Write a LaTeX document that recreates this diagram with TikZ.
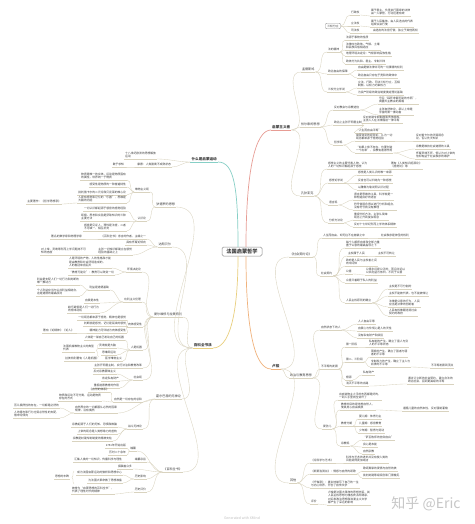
\documentclass[tikz,border=0pt]{standalone}
\usepackage{fontspec}
\setmainfont{Noto Sans CJK SC}
\usepackage{xcolor}
\usepackage{tikz}
\usetikzlibrary{decorations.pathreplacing}

\definecolor{twigc}{HTML}{D9D3BF}
\definecolor{textc}{HTML}{3A3A3A}
\definecolor{brA}{HTML}{E79C94}
\definecolor{brR}{HTML}{F0B27C}
\definecolor{brL}{HTML}{86CFC6}
\definecolor{brM}{HTML}{E9CF7E}

\newcommand\leaffont{\fontsize{2.8}{3.5}\selectfont}
\newcommand\topicfont{\fontsize{3.1}{3.8}\selectfont}

\begin{document}
\begin{tikzpicture}[
    x=1pt, y=-1pt,
    twig/.style={draw=twigc, line width=0.35pt},
    rt/.style={out=0, in=180},
    lt/.style={out=180, in=0},
    leaf/.style={font=\leaffont, text=textc, align=left, inner xsep=0.8pt, inner ysep=0.7pt,
                 append after command={(\tikzlastnode.south west) edge[twig] (\tikzlastnode.south east)}},
    rleaf/.style={leaf, anchor=south west},
    lleaf/.style={leaf, anchor=south east},
    rtopic/.style={rleaf, font=\topicfont},
    ltopic/.style={lleaf, font=\topicfont},
    branch/.style={font=\fontsize{3.6}{4.2}\selectfont\bfseries, text=textc, inner xsep=1pt, inner ysep=0.8pt,
                   append after command={(\tikzlastnode.south west) edge[draw=#1, line width=0.6pt] (\tikzlastnode.south east)}},
    mainline/.style={draw=#1, line width=0.7pt},
    centre/.style={draw=black!45, line width=0.5pt, rounded corners=1.5pt, fill=white,
                   font=\fontsize{5.2}{6}\selectfont\bfseries, text=textc,
                   minimum width=40pt, minimum height=9pt, inner sep=1pt},
    floatbox/.style={draw=black!40, line width=0.4pt, rounded corners=1pt, font=\leaffont, text=textc,
                     minimum width=15pt, minimum height=5.5pt, inner sep=1pt},
    sumbrace/.style={twig, decorate, decoration={brace, amplitude=2pt}}
]
\fill[white] (0,0) rectangle (474,524);
\useasboundingbox (0,0) rectangle (474,524);

% Centre
\node[centre] (root) at (242,251.5) {法国启蒙哲学};

% BRANCH 1 (upper right)
\node[branch=brA, anchor=south west] (qm) at (271,130) {启蒙主义者};

\node[floatbox] (sq) at (333,26) {三权分立};
\node[rleaf] (sq1) at (350,15) {行政权};
\node[rleaf] (sq1a) at (370,16) {属于君主，负责执行国家的法律\\由一人掌管，行动迅速有效};
\node[rleaf] (sq2) at (350,26) {立法权};
\node[rleaf] (sq2a) at (370,27) {属于人民集体，由人民选出的代表\\组成议会行使};
\node[rleaf] (sq3) at (350,33) {司法权};
\node[rleaf] (sq3a) at (372,33) {由选出的法官行使，独立于其他两权};

\node[rtopic] (msq) at (301,72) {孟德斯鸠};
\node[rleaf] (msq1) at (327,52) {法的精神};
\node[rleaf] (msq1a) at (345,40) {法源于事物的性质};
\node[rleaf] (msq1b) at (345,50) {法律应与政体、气候、土壤\\和民族风俗相适应};
\node[rleaf] (msq1c) at (345,56) {地理环境决定论：气候影响民族性格};
\node[rleaf] (msq1d) at (345,64) {政体分为共和、君主、专制三种};
\node[rleaf] (msq2) at (327,74) {政治自由的保障};
\node[rleaf] (msq2a) at (357,70) {自由是做法律许可的一切事情的权利};
\node[rleaf] (msq2b) at (357,78) {政治自由只存在于宽和的政体中};
\node[rleaf] (msq3) at (327,92) {三权分立学说};
\node[rleaf] (msq3a) at (357,88) {立法、行政、司法三权分立，互相\\制衡，以权力约束权力};
\node[rleaf] (msq3b) at (357,95) {为资产阶级的政治制度奠定理论基础};

\node[rtopic] (fet) at (300,127) {伏尔泰的思想};
\node[rleaf] (fet1) at (333,110) {反对教会与宗教迷信};
\node[rleaf] (fet1a) at (378,104) {号召“踩死卑鄙无耻的东西”，\\揭露天主教会的黑暗};
\node[rleaf] (fet1b) at (378,115) {主张自然神论，承认上帝是\\宇宙的第一推动者};
\node[rleaf] (fet2) at (333,125) {政治上主张开明君主制};
\node[rleaf] (fet2a) at (362,123) {反对封建专制制度和贵族特权，\\主张人人在法律面前一律平等};
\node[rleaf] (fet2b) at (355,133) {“人生而自由平等”};
\node[rleaf] (fet3) at (333,145) {哲学观};
\node[rleaf] (fet3a) at (355,141) {接受洛克的经验论，认为一切\\观念都来源于感觉经验};
\node[rleaf] (fet3aa) at (415,141) {反对笛卡尔的天赋观念\\论，否认先天知识};
\node[rleaf] (fet3b) at (355,153) {“如果上帝不存在，也要创造\\一个出来”，宗教有道德作用};
\node[rleaf] (fet3ba) at (415,149) {宗教是维持社会道德的工具};
\node[rleaf] (fet3bb) at (415,159) {怀疑灵魂不死，但认为对上帝的\\信仰有益于社会秩序的维护};

\node[rtopic] (kdy) at (300,196) {孔狄亚克};
\node[rleaf] (kdy1) at (327,169) {感觉主义的主要代表人物，认为\\人的一切知识都起源于感觉};
\node[rleaf] (kdy1a) at (390,169) {著有《人类知识起源论》\\《感觉论》等};
\node[rleaf] (kdy2) at (328,183) {感觉论学说};
\node[rleaf] (kdy2a) at (357,175) {感觉是人类认识的唯一来源};
\node[rleaf] (kdy2b) at (357,183) {反省也可以归结为一种感觉};
\node[rleaf] (kdy2c) at (357,190) {以雕像为喻说明认识过程};
\node[rleaf] (kdy3) at (328,205) {语言观};
\node[rleaf] (kdy3a) at (353,200) {语言是思维的工具，科学就是一\\种构造良好的语言};
\node[rleaf] (kdy3b) at (353,210) {符号使观念得以进行分析和组合，\\没有符号就没有推理};
\node[rleaf] (kdy4) at (328,223) {分析方法论};
\node[rleaf] (kdy4a) at (353,220) {重视分析方法，主张从简单\\观念上升到复杂观念};
\node[rleaf] (kdy4b) at (353,227) {反对十七世纪形而上学的体系精神};

% BRANCH 2 (lower right)
\node[branch=brR, anchor=south west] (ls) at (271,369) {卢梭};

\node[rtopic] (shq) at (289,257) {《社会契约论》};
\node[rleaf] (shq1) at (322,238) {人生而自由，却无往不在枷锁之中};
\node[rleaf] (shq1a) at (380,238) {社会秩序是神圣的权利};
\node[rleaf] (shq2) at (320,276) {社会契约};
\node[rleaf] (shq2a) at (345,248) {每个人都把自身和全部力量\\置于公意的最高指导之下};
\node[rleaf] (shq2b) at (347,256) {主权属于人民};
\node[rleaf] (shq2ba) at (377,256) {主权不可转让};
\node[rleaf] (shq2c) at (345,266) {政府是人民与主权者之间\\的中间体};
\node[rleaf] (shq2d) at (345,274) {公意};
\node[rleaf] (shq2da) at (365,275) {公意永远是公正的，而且永远以\\公共利益为依归，不同于众意};
\node[rleaf] (shq2e) at (345,283) {众意只着眼于私人的利益};
\node[rleaf] (shq2f) at (345,303) {人民主权原则的确立};
\node[rleaf] (shq2f1) at (388,289) {主权是不可分割的};
\node[rleaf] (shq2f2) at (388,296) {主权不能被代表，也不能被转让};
\node[rleaf] (shq2f3) at (388,307) {法律是公意的行为，人民\\应当是法律的创制者};
\node[rleaf] (shq2f4) at (388,316) {人民有权推翻违背社会\\契约的政府};

\node[rtopic] (bpd) at (289,378) {政治与教育思想};
\node[rleaf] (bpd1) at (320,330) {自然状态下的人};
\node[rleaf] (bpd1a) at (357,324) {人人自由平等};
\node[rleaf] (bpd1b) at (357,331) {自爱心与怜悯心是人的天性};
\node[rleaf] (bpd1c) at (357,338) {没有私有财产和奴役};
\node[rleaf] (bpd2) at (320,369) {不平等的发展};
\node[rleaf] (bpd2a) at (345,347) {第一阶段};
\node[rleaf] (bpd2aa) at (368,347) {私有制的产生，确立了富人与穷\\人的不平等状态};
\node[rleaf] (bpd2b) at (345,362) {第二、三阶段};
\node[rleaf] (bpd2ba) at (370,357) {国家的产生，确立了强者与弱\\者的不平等};
\node[rleaf] (bpd2bb) at (370,367) {专制权力的产生，确立了主人与\\奴隶的不平等};
\node[rleaf] (bpd2bba) at (430,368) {不平等发展到顶点};
\node[rleaf] (bpd2c) at (345,380) {根源};
\node[rleaf] (bpd2ca) at (362,375) {私有财产};
\node[rleaf] (bpd2d) at (345,386) {消灭不平等的出路};
\node[rleaf] (bpd2da) at (407,384) {通过订立新的社会契约，建立合法的\\政治社会，回到更高级的平等};
\node[rleaf] (amr) at (322,429) {爱弥儿};
\node[rleaf] (amr1) at (338,400) {出自造物主之手的东西都是好的，\\一到人手里就全变坏了};
\node[rleaf] (amr2) at (340,410) {教育的目的是培养自然人，\\使其身心自由发展};
\node[rleaf] (amr2a) at (402,411) {遵循儿童的自然本性，反对强制灌输};
\node[rleaf] (amr3) at (340,426) {教育分期};
\node[rleaf] (amr3a) at (358,419) {婴儿期：体育为主};
\node[rleaf] (amr3b) at (358,426) {儿童期：感官教育};
\node[rleaf] (amr3c) at (358,433) {少年期：智育与劳动};
\node[rleaf] (amr4) at (340,446) {宗教观};
\node[rleaf] (amr4a) at (362,440) {“萨瓦牧师的信仰自白”};
\node[rleaf] (amr4b) at (362,447) {良心是本能};
\node[rleaf] (amr4c) at (362,454) {自然宗教};

\node[rtopic] (qt) at (289,483) {其他};
\node[rleaf] (qt1) at (310,463) {《论科学与艺术》};
\node[rleaf] (qt1a) at (345,463) {科学与艺术的进步并没有使人类的\\风俗变得更加纯洁};
\node[rleaf] (qt2) at (310,474) {《新爱洛漪丝》：情感与自然的颂歌};
\node[rleaf] (qt2a) at (362,471) {歌颂真挚的爱情与自然的美};
\node[rleaf] (qt2b) at (362,478) {批判封建等级观念和门第偏见};
\node[rleaf] (qt3) at (310,488) {《忏悔录》：真实地描写了自己的一生\\与内心世界，开创了自传文学};
\node[rleaf] (qt4) at (310,504) {评价};
\node[rleaf] (qt4a) at (327,505) {卢梭是法国大革命的思想先驱，其\\人民主权思想为雅各宾派所继承，\\对后世政治思想和浪漫主义文学\\都产生了深远的影响};

% BRANCH 3 (upper left)
\node[branch=brL, anchor=south east] (smqm) at (218,162) {什么是启蒙运动};
\node[lleaf] (smqm1) at (157,159) {十八世纪欧洲的思想解放\\运动};
\node[lleaf] (smqm2) at (172,167) {康德：人类脱离不成熟状态};
\node[lleaf] (smqm2a) at (125,167) {敢于求知};

% BRANCH 4 (lower left)
\node[branch=brM, anchor=south east] (bkqs) at (213,348) {百科全书派};

\node[ltopic] (ddl) at (176,207) {狄德罗的思想};
\node[lleaf] (ddl1) at (150,192) {唯物主义观};
\node[lleaf] (ddl1a) at (127,180) {物质是唯一的实体，运动是物质固有\\的属性，世界统一于物质};
\node[lleaf] (ddl1b) at (127,187) {感受性是物质的一种普遍特性};
\node[lleaf] (ddl1c) at (127,195) {批判笛卡尔的二元论和贝克莱的唯心论};
\node[lleaf] (ddl1d) at (127,203) {人是有感觉和记忆的“乐器”，思维是\\大脑的功能};
\node[lleaf] (ddl1e) at (62,204) {主要著作：《哲学思想录》};
\node[lleaf] (ddl2) at (147,221) {认识论};
\node[lleaf] (ddl2a) at (127,211) {一切认识都起源于感官的感觉经验};
\node[lleaf] (ddl2b) at (127,221) {观察、思考和实验是获取知识的三种\\主要方法};
\node[lleaf] (ddl2c) at (127,231) {感官是见证人，理性是法官，二者\\不可缺一，相互补充};

\node[ltopic] (dlb) at (172,247) {达朗贝尔};
\node[lleaf] (dlb1) at (147,239) {《百科全书》序言的作者，主编之一};
\node[lleaf] (dlb1a) at (83,239) {著名的数学家和物理学家};
\node[lleaf] (dlb2) at (147,245) {具有怀疑论倾向};
\node[lleaf] (dlb3) at (133,255) {主张一切知识都建立在感觉\\经验的基础之上};
\node[lleaf] (dlb3a) at (87,255) {对上帝、灵魂等形而上学问题持不可\\知的态度};

\node[ltopic] (aew) at (183,317) {爱尔维修与拉美特利};
\node[lleaf] (aew1) at (142,272) {环境决定论};
\node[lleaf] (aew1a) at (112,268) {人是环境的产物，人的性格和才能\\是由教育和社会环境造成的，\\人的差别来自后天};
\node[lleaf] (aew1b) at (115,275) {“教育万能论”：教育可以改变一切};
\node[lleaf] (aew2) at (142,302) {功利主义伦理};
\node[lleaf] (aew2a) at (110,290) {利益是道德基础};
\node[lleaf] (aew2a1) at (80,285) {利益是支配人们一切行为和判断的\\唯一推动力};
\node[lleaf] (aew2a2) at (80,296) {个人利益应当与公共利益相结合，\\这是道德的最高原则};
\node[lleaf] (aew2b) at (100,303) {自爱是本性};
\node[lleaf] (aew2c) at (100,313) {趋乐避苦是人们一切行为\\的根本动机};
\node[lleaf] (aew3) at (143,327) {肉体感受性};
\node[lleaf] (aew3a) at (127,320) {一切观念都来源于感觉，精神也是感觉};
\node[lleaf] (aew3b) at (127,326) {判断就是感觉，记忆是延续的感觉};
\node[lleaf] (aew3c) at (127,333) {精神能力可归结为肉体感受性};
\node[lleaf] (aew3ca) at (75,333) {著有《论精神》《论人》};
\node[lleaf] (aew4) at (143,350) {人是机器};
\node[lleaf] (aew4a) at (125,340) {人体是一架自己发动自己的机器};
\node[lleaf] (aew4b) at (117,348) {灵魂就是大脑};
\node[lleaf] (aew4c) at (117,355) {思维即运动};
\node[lleaf] (aew4d) at (123,361) {医学唯物主义};
\node[lleaf] (aew4da) at (100,361) {拉美特利著有《人是机器》};
\node[lleaf] (aews) at (95,352) {法国机械唯物主义的典型\\代表};
\node[lleaf] (aew6) at (143,368) {主张开明君主制，实行法治和教育改革};
\node[lleaf] (aew5) at (143,380) {社会观};
\node[lleaf] (aew5a) at (117,374) {反对宗教蒙昧主义};
\node[lleaf] (aew5b) at (120,381) {肯定私有财产};
\node[lleaf] (aew5c) at (120,388) {重视道德教育的作用};

\node[ltopic] (hbh) at (182,399) {霍尔巴赫的无神论};
\node[lleaf] (hbh1) at (143,402) {自然是一切存在的总和};
\node[lleaf] (hbh1a) at (110,392) {《自然的体系》};
\node[lleaf] (hbh1b) at (102,401) {物质和运动不可分离，运动是物质\\存在的方式};
\node[lleaf] (hbh2) at (118,413) {自然界中的一切都服从必然的因果\\规律，没有偶然};
\node[lleaf] (hbh2a) at (60,408) {否认偶然性的存在，一切都是必然的};
\node[lleaf] (hbh2b) at (60,418) {人的意志和行为也受必然性的支配，\\宿命论倾向};
\node[lleaf] (hbh3) at (143,429) {战斗无神论};
\node[lleaf] (hbh3a) at (118,427) {宗教起源于人们的无知、恐惧和欺骗};
\node[lleaf] (hbh3b) at (118,434) {上帝的观念是人类想象力的虚构};
\node[lleaf] (hbh3c) at (113,441) {宗教是封建专制制度的精神支柱};

\node[ltopic] (bkqsh) at (183,472) {《百科全书》};
\node[lleaf] (bk1) at (137,451) {编纂};
\node[lleaf] (bk1a) at (127,448) {1751年开始出版};
\node[lleaf] (bk1b) at (127,455) {历时二十余年};
\node[lleaf] (bk2) at (147,462) {编纂宗旨};
\node[lleaf] (bk2a) at (123,462) {汇集人类的一切知识，传播科学与理性};
\node[lleaf] (bk3) at (133,469) {撰稿者众多};
\node[lleaf] (bk4) at (147,479) {历史影响};
\node[lleaf] (bk4a) at (123,475) {成为法国启蒙运动的旗帜和思想中心};
\node[lleaf] (bk4b) at (123,483) {为法国大革命做了思想准备};
\node[lleaf] (bks) at (70,479) {思想的丰碑};
\node[lleaf] (bk5) at (147,492) {历史评价};
\node[lleaf] (bk5a) at (115,494) {被誉为“启蒙思想的百科全书”，\\代表了理性时代的精神};

% main branches
\draw[mainline=brA] ([xshift=4pt]root.north) .. controls +(0,-75) and +(-16,0) .. (qm.south west);
\draw[mainline=brL] ([xshift=-4pt]root.north) .. controls +(0,-60) and +(16,0) .. (smqm.south east);
\draw[mainline=brR] ([xshift=4pt]root.south) .. controls +(0,75) and +(-16,0) .. (ls.south west);
\draw[mainline=brM] ([xshift=-4pt]root.south) .. controls +(0,60) and +(16,0) .. (bkqs.south east);

% connectors, right side
\draw[twig] (qm.south east) edge[rt] (msq.south west) edge[rt] (fet.south west) edge[rt] (kdy.south west);
\draw[twig] (sq.east) edge[rt] (sq1.south west) edge[rt] (sq2.south west) edge[rt] (sq3.south west);
\draw[twig] (sq1.south east) edge[rt] (sq1a.south west);
\draw[twig] (sq2.south east) edge[rt] (sq2a.south west);
\draw[twig] (sq3.south east) edge[rt] (sq3a.south west);
\draw[twig] (msq.south east) edge[rt] (msq1.south west) edge[rt] (msq2.south west) edge[rt] (msq3.south west);
\draw[twig] (msq1.south east) edge[rt] (msq1a.south west) edge[rt] (msq1b.south west) edge[rt] (msq1c.south west) edge[rt] (msq1d.south west);
\draw[twig] (msq2.south east) edge[rt] (msq2a.south west) edge[rt] (msq2b.south west);
\draw[twig] (msq3.south east) edge[rt] (msq3a.south west) edge[rt] (msq3b.south west);
\draw[twig] (fet.south east) edge[rt] (fet1.south west) edge[rt] (fet2.south west) edge[rt] (fet3.south west);
\draw[twig] (fet1.south east) edge[rt] (fet1a.south west) edge[rt] (fet1b.south west);
\draw[twig] (fet2.south east) edge[rt] (fet2a.south west) edge[rt] (fet2b.south west);
\draw[twig] (fet3.south east) edge[rt] (fet3a.south west) edge[rt] (fet3b.south west);
\draw[twig] (fet3a.south east) edge[rt] (fet3aa.south west);
\draw[twig] (fet3b.south east) edge[rt] (fet3ba.south west) edge[rt] (fet3bb.south west);
\draw[twig] (kdy.south east) edge[rt] (kdy1.south west) edge[rt] (kdy2.south west) edge[rt] (kdy3.south west) edge[rt] (kdy4.south west);
\draw[twig] (kdy1.south east) edge[rt] (kdy1a.south west);
\draw[twig] (kdy2.south east) edge[rt] (kdy2a.south west) edge[rt] (kdy2b.south west) edge[rt] (kdy2c.south west);
\draw[twig] (kdy3.south east) edge[rt] (kdy3a.south west) edge[rt] (kdy3b.south west);
\draw[twig] (kdy4.south east) edge[rt] (kdy4a.south west) edge[rt] (kdy4b.south west);

\draw[twig] (ls.south east) edge[rt] (shq.south west) edge[rt] (bpd.south west) edge[rt] (qt.south west);
\draw[twig] (shq.south east) edge[rt] (shq1.south west) edge[rt] (shq2.south west);
\draw[twig] (shq1.south east) edge[rt] (shq1a.south west);
\draw[twig] (shq2.south east) edge[rt] (shq2a.south west) edge[rt] (shq2b.south west) edge[rt] (shq2c.south west)
    edge[rt] (shq2d.south west) edge[rt] (shq2e.south west) edge[rt] (shq2f.south west);
\draw[twig] (shq2b.south east) edge[rt] (shq2ba.south west);
\draw[twig] (shq2d.south east) edge[rt] (shq2da.south west);
\draw[twig] (shq2f.south east) edge[rt] (shq2f1.south west) edge[rt] (shq2f2.south west) edge[rt] (shq2f3.south west) edge[rt] (shq2f4.south west);
\draw[twig] (bpd.south east) edge[rt] (bpd1.south west) edge[rt] (bpd2.south west) edge[rt] (amr.south west);
\draw[twig] (bpd1.south east) edge[rt] (bpd1a.south west) edge[rt] (bpd1b.south west) edge[rt] (bpd1c.south west);
\draw[twig] (bpd2.south east) edge[rt] (bpd2a.south west) edge[rt] (bpd2b.south west) edge[rt] (bpd2c.south west) edge[rt] (bpd2d.south west);
\draw[twig] (bpd2a.south east) edge[rt] (bpd2aa.south west);
\draw[twig] (bpd2b.south east) edge[rt] (bpd2ba.south west) edge[rt] (bpd2bb.south west);
\draw[twig] (bpd2bb.south east) edge[rt] (bpd2bba.south west);
\draw[twig] (bpd2c.south east) edge[rt] (bpd2ca.south west);
\draw[twig] (bpd2d.south east) edge[rt] (bpd2da.south west);
\draw[twig] (amr.south east) edge[rt] (amr1.south west) edge[rt] (amr2.south west) edge[rt] (amr3.south west) edge[rt] (amr4.south west);
\draw[twig] (amr2.south east) edge[rt] (amr2a.south west);
\draw[twig] (amr3.south east) edge[rt] (amr3a.south west) edge[rt] (amr3b.south west) edge[rt] (amr3c.south west);
\draw[twig] (amr4.south east) edge[rt] (amr4a.south west) edge[rt] (amr4b.south west) edge[rt] (amr4c.south west);
\draw[twig] (qt.south east) edge[rt] (qt1.south west) edge[rt] (qt2.south west) edge[rt] (qt3.south west) edge[rt] (qt4.south west);
\draw[twig] (qt1.south east) edge[rt] (qt1a.south west);
\draw[twig] (qt2.south east) edge[rt] (qt2a.south west) edge[rt] (qt2b.south west);
\draw[twig] (qt4.south east) edge[rt] (qt4a.south west);

% connectors, left side
\draw[twig] (smqm.south west) edge[lt] (smqm1.south east) edge[lt] (smqm2.south east);
\draw[twig] (smqm2.south west) edge[lt] (smqm2a.south east);
\draw[twig] (bkqs.south west) edge[lt] (ddl.south east) edge[lt] (dlb.south east) edge[lt] (aew.south east)
    edge[lt] (hbh.south east) edge[lt] (bkqsh.south east);
\draw[twig] (ddl.south west) edge[lt] (ddl1.south east) edge[lt] (ddl2.south east);
\draw[twig] (ddl1.south west) edge[lt] (ddl1a.south east) edge[lt] (ddl1b.south east) edge[lt] (ddl1c.south east) edge[lt] (ddl1d.south east);
\draw[twig] (ddl1d.south west) edge[lt] (ddl1e.south east);
\draw[twig] (ddl2.south west) edge[lt] (ddl2a.south east) edge[lt] (ddl2b.south east) edge[lt] (ddl2c.south east);
\draw[twig] (dlb.south west) edge[lt] (dlb1.south east) edge[lt] (dlb2.south east) edge[lt] (dlb3.south east);
\draw[twig] (dlb1.south west) edge[lt] (dlb1a.south east);
\draw[twig] (dlb3.south west) edge[lt] (dlb3a.south east);
\draw[twig] (aew.south west) edge[lt] (aew1.south east) edge[lt] (aew2.south east) edge[lt] (aew3.south east)
    edge[lt] (aew4.south east) edge[lt] (aew6.south east) edge[lt] (aew5.south east);
\draw[twig] (aew1.south west) edge[lt] (aew1a.south east) edge[lt] (aew1b.south east);
\draw[twig] (aew2.south west) edge[lt] (aew2a.south east) edge[lt] (aew2b.south east) edge[lt] (aew2c.south east);
\draw[twig] (aew2a.south west) edge[lt] (aew2a1.south east) edge[lt] (aew2a2.south east);
\draw[twig] (aew3.south west) edge[lt] (aew3a.south east) edge[lt] (aew3b.south east) edge[lt] (aew3c.south east);
\draw[twig] (aew3c.south west) edge[lt] (aew3ca.south east);
\draw[twig] (aew4.south west) edge[lt] (aew4a.south east) edge[lt] (aew4b.south east) edge[lt] (aew4c.south east) edge[lt] (aew4d.south east);
\draw[twig] (aew4d.south west) edge[lt] (aew4da.south east);
\draw[sumbrace] (98.5,357) -- (98.5,344);
\draw[twig] (aew5.south west) edge[lt] (aew5a.south east) edge[lt] (aew5b.south east) edge[lt] (aew5c.south east);
\draw[twig] (hbh.south west) edge[lt] (hbh1.south east) edge[lt] (hbh2.south east) edge[lt] (hbh3.south east);
\draw[twig] (hbh1.south west) edge[lt] (hbh1a.south east) edge[lt] (hbh1b.south east);
\draw[twig] (hbh2.south west) edge[lt] (hbh2a.south east) edge[lt] (hbh2b.south east);
\draw[twig] (hbh3.south west) edge[lt] (hbh3a.south east) edge[lt] (hbh3b.south east) edge[lt] (hbh3c.south east);
\draw[twig] (bkqsh.south west) edge[lt] (bk1.south east) edge[lt] (bk2.south east) edge[lt] (bk3.south east)
    edge[lt] (bk4.south east) edge[lt] (bk5.south east);
\draw[twig] (bk1.south west) edge[lt] (bk1a.south east) edge[lt] (bk1b.south east);
\draw[twig] (bk2.south west) edge[lt] (bk2a.south east);
\draw[twig] (bk4.south west) edge[lt] (bk4a.south east) edge[lt] (bk4b.south east);
\draw[sumbrace] (74,484) -- (74,471);
\draw[twig] (bk5.south west) edge[lt] (bk5a.south east);

% watermark
\node[font=\fontsize{14}{14}\selectfont, text=black!22] (wm) at (426,504) {知乎 @Eric};
\node[font=\fontsize{3.5}{4}\selectfont, text=black!25] (xm) at (242,518) {Generated with XMind};

\end{tikzpicture}
\end{document}
